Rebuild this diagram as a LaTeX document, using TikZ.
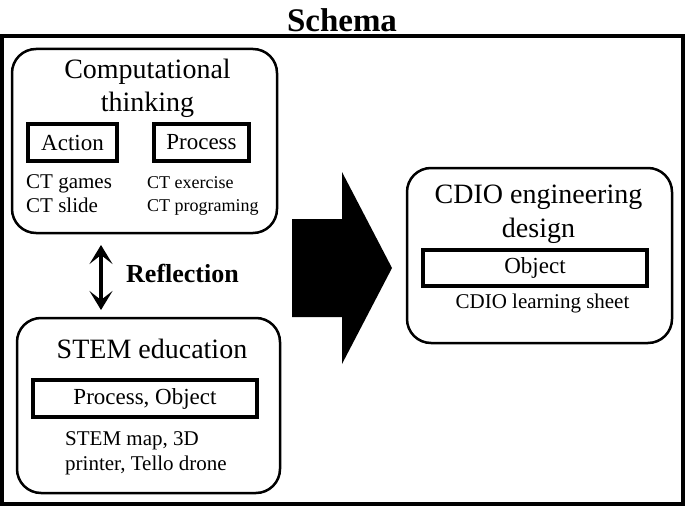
\documentclass[tikz,border=0pt]{standalone}
\usepackage{fontspec}
\setmainfont{Liberation Serif}
\usetikzlibrary{arrows.meta}
\newcommand{\fsz}[1]{\fontsize{#1}{#1}\selectfont}
\newcommand{\arw}{{Stealth[length=19pt,width=23pt,inset=9pt]}-{Stealth[length=19pt,width=23pt,inset=9pt]}}

\begin{document}
\begin{tikzpicture}[x=1pt,y=1pt,
  topic/.style={draw,line width=2.5pt,rounded corners=24pt,minimum width=265,minimum height=176},
  tag/.style={draw,line width=3.5pt,inner sep=0pt,minimum height=37,font=\fsz{23}},
  txt/.style={anchor=base,inner sep=0pt}]
\useasboundingbox (0,0) rectangle (685,-508);
\node[txt,font=\bfseries\fsz{33}] (title) at (342,-32) {Schema};
\node[draw,line width=4pt,minimum width=681,minimum height=468] (frame) at (342.5,-270) {};
%computational thinking
\node[topic,minimum height=184] (ct) at (144.5,-141) {};
\node[txt,font=\fsz{28}] (ct1) at (147.5,-79) {Computational};
\node[txt,font=\fsz{28}] (ct2) at (147.5,-112) {thinking};
\node[tag,minimum width=89] (action) at (72.5,-142.5) {Action};
\node[tag,minimum width=95] (process) at (201.5,-142.5) {Process};
\node[txt,anchor=base west,font=\fsz{21}] (games) at (26,-188) {CT games};
\node[txt,anchor=base west,font=\fsz{21}] (slide) at (26,-212) {CT slide};
\node[txt,anchor=base west,font=\fsz{18}] (exercise) at (147,-188) {CT exercise};
\node[txt,anchor=base west,font=\fsz{18}] (programing) at (147,-211) {CT programing};
%reflection
\coordinate (rtop) at (101,-245);
\coordinate (rbot) at (101,-310);
\draw[line width=4pt,\arw] (rtop) -- (rbot);
\node[txt,anchor=base west,font=\bfseries\fsz{26}] (reflection) at (126,-282) {Reflection};
%stem education
\node[topic,minimum width=263,minimum height=175] (stem) at (148.5,-405.5) {};
\node[txt,font=\fsz{28}] (stem1) at (152,-358) {STEM education};
\node[tag,minimum width=224] (procobj) at (145,-398.5) {Process, Object};
\node[txt,anchor=base west,font=\fsz{21}] (map) at (65,-445) {STEM map, 3D};
\node[txt,anchor=base west,font=\fsz{21}] (drone) at (65,-470) {printer, Tello drone};
%big arrow
\fill (292,-219) -- (342,-219) -- (342,-172) -- (392,-268) -- (342,-364) -- (342,-317) -- (292,-317) -- cycle;
%cdio engineering design
\node[topic,minimum height=175] (cdio) at (539.5,-255.5) {};
\node[txt,font=\fsz{28}] (cdio1) at (538.5,-203) {CDIO engineering};
\node[txt,font=\fsz{28}] (cdio2) at (538.5,-237) {design};
\node[tag,minimum width=224,minimum height=36] (object) at (535,-268) {Object};
\node[txt,font=\fsz{21}] (sheet) at (542.5,-308) {CDIO learning sheet};
\end{tikzpicture}
\end{document}
